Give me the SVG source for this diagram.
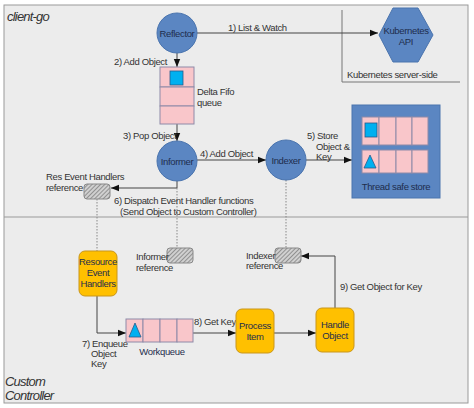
<svg xmlns="http://www.w3.org/2000/svg" width="474" height="408" viewBox="0 0 474 408">
<defs>
<style>
.t{font-family:"Liberation Sans",Arial,sans-serif;font-size:9.5px;fill:#333;letter-spacing:-0.35px}
.tn{font-family:"Liberation Sans",Arial,sans-serif;font-size:9.5px;fill:#1e2d4d;letter-spacing:-0.35px;text-anchor:middle}
.big{font-family:"Liberation Sans",Arial,sans-serif;font-size:13px;font-style:italic;fill:#333;letter-spacing:-0.8px}
.circ{fill:#5b86c2;stroke:#4a74ae;stroke-width:1}
.ora{fill:#ffc000;stroke:#c9961a;stroke-width:1}
.pink{fill:#f9c6ca;stroke:#8e8aa8;stroke-width:1}
.hatch{fill:url(#hp);stroke:#888;stroke-width:1}
.ln{fill:none;stroke:#444;stroke-width:1}
.dot{fill:none;stroke:#888;stroke-width:1;stroke-dasharray:1.5 1.5}
.cy{fill:#00b0f0;stroke:#2a5a8a;stroke-width:0.8}
</style>
<pattern id="hp" patternUnits="userSpaceOnUse" width="3" height="3" patternTransform="rotate(45)">
<rect width="3" height="3" fill="#d0d0d0"/>
<line x1="0" y1="0" x2="0" y2="3" stroke="#6e6e6e" stroke-width="1.3"/>
</pattern>
<marker id="ar" viewBox="0 0 10 10" refX="10" refY="5" markerWidth="8" markerHeight="8" markerUnits="userSpaceOnUse" orient="auto">
<path d="M0,1 L10,5 L0,9 z" fill="#111"/>
</marker>
<marker id="ars" viewBox="0 0 10 10" refX="10" refY="5" markerWidth="5" markerHeight="5" markerUnits="userSpaceOnUse" orient="auto">
<path d="M0,1 L10,5 L0,9 z" fill="#2a4a80"/>
</marker>
</defs>
<rect x="0" y="0" width="474" height="408" fill="#ffffff"/>
<rect x="4" y="5" width="464" height="398" fill="#ececec" stroke="#9a9a9a" stroke-width="1"/>
<line x1="4" y1="217" x2="468" y2="217" stroke="#9a9a9a" stroke-width="1"/>
<g id="server-side">
<polyline points="342,10 342,82 460,82" fill="none" stroke="#777" stroke-width="1"/>
<text class="t" x="347" y="78">Kubernetes server-side</text>
</g>
<text class="big" x="7" y="21">client-go</text>
<text class="big" x="5" y="386">Custom</text>
<text class="big" x="5" y="400">Controller</text>

<g id="connectors">
<line class="ln" x1="197" y1="33" x2="378" y2="33" marker-end="url(#ar)"/>
<text class="t" x="228" y="31">1) List &amp; Watch</text>
<line class="ln" x1="177" y1="53" x2="177" y2="67" marker-end="url(#ar)"/>
<text class="t" x="114" y="65">2) Add Object</text>
<line class="ln" x1="177" y1="124" x2="177" y2="141" marker-end="url(#ar)"/>
<text class="t" x="123" y="139">3) Pop Object</text>
<line class="ln" x1="197" y1="160" x2="266" y2="160" marker-end="url(#ar)"/>
<text class="t" x="200" y="157">4) Add Object</text>
<line class="ln" x1="306" y1="160" x2="352" y2="160" marker-end="url(#ar)"/>
<line x1="353" y1="160" x2="364" y2="131" stroke="#2a4a80" stroke-width="0.8" marker-end="url(#ars)"/>
<line x1="353" y1="160" x2="364" y2="165" stroke="#2a4a80" stroke-width="0.8" marker-end="url(#ars)"/>
<text class="t" x="307" y="139">5) Store</text>
<text class="t" x="316" y="150">Object &amp;</text>
<text class="t" x="316" y="160">Key</text>
<polyline class="ln" points="177,181 177,188 111,188" marker-end="url(#ar)"/>
<line class="dot" x1="177" y1="188" x2="177" y2="248"/>
<text class="t" x="114" y="204">6) Dispatch Event Handler functions</text>
<text class="t" x="120" y="214.5">(Send Object to Custom Controller)</text>
<line class="dot" x1="97" y1="199" x2="97" y2="251"/>
<line class="dot" x1="286" y1="180" x2="286" y2="248"/>
<polyline class="ln" points="97,296 97,333 126,333" marker-end="url(#ar)"/>
<text class="t" x="82" y="347">7) Enqueue</text>
<text class="t" x="91" y="357">Object</text>
<text class="t" x="91" y="367">Key</text>
<line class="ln" x1="193" y1="333" x2="236" y2="333" marker-end="url(#ar)"/>
<text class="t" x="194" y="325">8) Get Key</text>
<line class="ln" x1="274" y1="333" x2="316" y2="333" marker-end="url(#ar)"/>
<polyline class="ln" points="335,308 335,256 301,256" marker-end="url(#ar)"/>
<text class="t" x="340" y="290">9) Get Object for Key</text>
</g>

<g id="kubernetes-api">
<polygon points="379,35 393,8 418,8 433,35 418,62 393,62" class="circ"/>
<text class="tn" x="406" y="34">Kubernetes</text>
<text class="tn" x="406" y="45">API</text>
</g>
<g id="reflector">
<circle class="circ" cx="177" cy="33" r="20"/>
<text class="tn" x="177" y="37">Reflector</text>
</g>
<g id="delta-fifo">
<rect class="pink" x="160" y="67" width="34" height="20"/>
<rect class="pink" x="160" y="87" width="34" height="19"/>
<rect class="pink" x="160" y="106" width="34" height="18"/>
<rect class="cy" x="170" y="71" width="13" height="14"/>
<text class="t" x="197" y="95">Delta Fifo</text>
<text class="t" x="197" y="106">queue</text>
</g>
<g id="informer">
<circle class="circ" cx="177" cy="161" r="20"/>
<text class="tn" x="177" y="165">Informer</text>
</g>
<g id="indexer">
<circle class="circ" cx="286" cy="160" r="20"/>
<text class="tn" x="286" y="164">Indexer</text>
</g>
<g id="thread-safe-store">
<rect x="352" y="105" width="88" height="93" fill="#5b86c2" stroke="#4a74ae"/>
<rect class="pink" x="362" y="117" width="17" height="28"/>
<rect class="pink" x="379" y="117" width="17" height="28"/>
<rect class="pink" x="396" y="117" width="16" height="28"/>
<rect class="pink" x="412" y="117" width="16" height="28"/>
<rect class="pink" x="362" y="150" width="17" height="23"/>
<rect class="pink" x="379" y="150" width="17" height="23"/>
<rect class="pink" x="396" y="150" width="16" height="23"/>
<rect class="pink" x="412" y="150" width="16" height="23"/>
<rect class="cy" x="365" y="123" width="12" height="14"/>
<polygon class="cy" points="370,155 376,168 364,168"/>
<text class="tn" x="396" y="190">Thread safe store</text>
</g>
<g id="res-event-handlers-reference">
<rect class="hatch" x="84" y="184" width="26" height="15" rx="3"/>
<text class="t" x="46" y="180">Res Event Handlers</text>
<text class="t" x="46" y="191">reference</text>
</g>
<g id="informer-reference">
<rect class="hatch" x="167" y="248" width="26" height="15" rx="3"/>
<text class="t" x="136" y="260">Informer</text>
<text class="t" x="136" y="271">reference</text>
</g>
<g id="indexer-reference">
<rect class="hatch" x="275" y="248" width="26" height="15" rx="3"/>
<text class="t" x="246" y="259">Indexer</text>
<text class="t" x="246" y="269">reference</text>
</g>
<g id="resource-event-handlers">
<rect class="ora" x="79" y="251" width="38" height="45" rx="6"/>
<text class="tn" x="98" y="265">Resource</text>
<text class="tn" x="98" y="276">Event</text>
<text class="tn" x="98" y="287">Handlers</text>
</g>
<g id="workqueue">
<rect class="pink" x="126" y="319" width="17" height="23"/>
<rect class="pink" x="143" y="319" width="17" height="23"/>
<rect class="pink" x="160" y="319" width="17" height="23"/>
<rect class="pink" x="177" y="319" width="16" height="23"/>
<polygon class="cy" points="135,323 141,337 129,337"/>
<text class="tn" x="162" y="355">Workqueue</text>
</g>
<g id="process-item">
<rect class="ora" x="236" y="309" width="38" height="44" rx="6"/>
<text class="tn" x="255" y="329">Process</text>
<text class="tn" x="255" y="340">Item</text>
</g>
<g id="handle-object">
<rect class="ora" x="316" y="308" width="38" height="44" rx="6"/>
<text class="tn" x="335" y="328">Handle</text>
<text class="tn" x="335" y="339">Object</text>
</g>
</svg>
